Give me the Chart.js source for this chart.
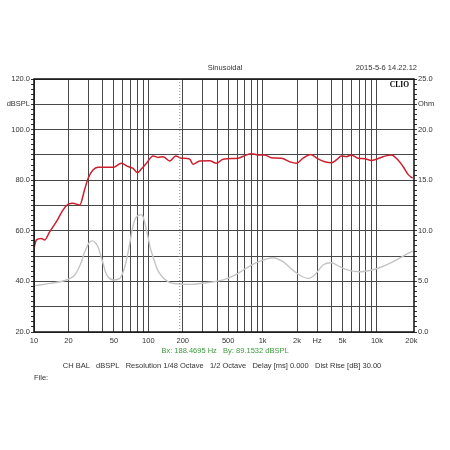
<!DOCTYPE html>
<html>
<head>
<meta charset="utf-8">
<script src="https://cdn.jsdelivr.net/npm/chart.js@4"></script>
<style>
html,body{margin:0;padding:0;background:#fff;}
canvas{display:block;}
</style>
</head>
<body>
<canvas id="c" width="450" height="450"></canvas>
<script>
// Frequency response (dBSPL, left axis)
const splFreq = [10,10.5,11.6,12.4,13.7,15.7,17.9,19.8,21.9,25.1,27.8,29.7,32.8,36.3,40.2,49.1,58.2,66.4,73.5,80.3,87.2,96.2,110,121.6,134.5,153.8,173.7,194.8,230,246,281.7,344,394,450,609,697,798,912,1043,1194,1461,1726,1976,2257,2618,3052,3494,3999,4423,4892,5408,5984,6834,7816,8950,9900,11310,13390,15300,16920,18710,20560];
const splValues = [53.2,56.4,57.0,56.4,59.6,63.6,68.2,70.4,70.9,70.2,76.5,80.7,84.0,85.1,85.1,85.1,86.7,85.4,84.7,83.0,84.5,86.7,89.6,89.0,89.3,87.6,89.6,88.7,88.4,86.3,87.6,87.7,86.7,88.3,88.7,89.7,90.5,90.0,90.0,88.9,88.7,87.3,86.7,88.7,90.2,88.4,87.3,86.9,88.0,89.6,89.3,90.0,88.7,88.5,87.8,88.3,89.3,90.0,88.0,85.4,82.3,80.8];
// Impedance (Ohm, right axis)
const impFreq = [10.1,13.7,19.2,22.7,26.0,27.5,29.1,30.5,32.4,34.2,36.3,38.3,40.2,42,44.4,49.8,56.3,62.3,65.5,68.8,72,76.1,80,84.2,87,89.8,94,99.3,104,110,117,125.4,148.5,187.6,237.4,322,466,609,798,1005,1233,1508,1906,2494,2852,3372,3990,4730,5808,7130,9020,11060,13900,17580,20560];
const impValues = [4.58,4.8,5.14,5.63,6.95,7.8,8.43,8.85,9.0,8.85,8.43,7.6,6.79,6.0,5.46,5.14,5.3,6.45,7.5,8.76,10.0,11.07,11.45,11.56,11.6,11.4,10.6,9.42,8.3,7.44,6.5,5.8,4.97,4.74,4.71,4.87,5.2,5.8,6.62,7.1,7.34,6.95,5.96,5.3,5.63,6.62,6.85,6.45,6.06,5.96,6.13,6.45,6.95,7.6,8.0];
// Cursor
const cursorFreq = 188.4695;
const cursorSpl = 89.1532;
// Axis ticks
const xGridValues = [10,20,30,40,50,60,70,80,90,100,200,300,400,500,600,700,800,900,1000,2000,3000,4000,5000,6000,7000,8000,9000,10000,20000];
const xTickLabels = {10:'10',20:'20',50:'50',100:'100',200:'200',500:'500',1000:'1k',2000:'2k',3000:'Hz',5000:'5k',10000:'10k',20000:'20k'};
const leftTickLabels = {20:'20.0',40:'40.0',60:'60.0',80:'80.0',100:'100.0',110:'dBSPL',120:'120.0'};
const rightTickLabels = {0:'0.0',5:'5.0',10:'10.0',15:'15.0',20:'20.0',22.5:'Ohm',25:'25.0'};

const FONT = {family:'"Liberation Sans", Arial, sans-serif', size:7.5};
const GRID = '#484848';

function mkTicks(min,max,step){const a=[];for(let v=min;v<=max+1e-9;v+=step)a.push({value:Math.round(v*100)/100});return a;}

const extras = {
  id:'extras',
  beforeDraw(chart){
    const ctx=chart.ctx;ctx.save();ctx.fillStyle='#fff';ctx.fillRect(0,0,chart.width,chart.height);ctx.restore();
  },
  afterDraw(chart){
    const ctx=chart.ctx, a=chart.chartArea;
    ctx.save();
    ctx.strokeStyle='#111';ctx.lineWidth=1.5;
    ctx.strokeRect(a.left,a.top,a.right-a.left,a.bottom-a.top);
    ctx.font='7.5px "Liberation Sans", Arial, sans-serif';
    ctx.fillStyle='#333';ctx.textBaseline='middle';
    ctx.textAlign='center';ctx.fillText('Sinusoidal',225,68);
    ctx.textAlign='right';ctx.fillText('2015-5-6 14.22.12',417,68);
    ctx.font='bold 7.5px "Liberation Serif", "Times New Roman", serif';
    ctx.fillStyle='#000';ctx.textAlign='right';ctx.fillText('CLIO',409,85);
    ctx.font='7.5px "Liberation Sans", Arial, sans-serif';
    ctx.fillStyle='#3c9a3c';ctx.textAlign='center';
    ctx.fillText('Bx: ' + cursorFreq.toFixed(4) + ' Hz   By: ' + cursorSpl.toFixed(4) + ' dBSPL',225,351);
    ctx.fillStyle='#333';
    ctx.fillText('CH BAL   dBSPL   Resolution 1/48 Octave   1/2 Octave   Delay [ms] 0.000   Dist Rise [dB] 30.00',222,366);
    ctx.textAlign='left';ctx.fillText('File:',34,378);
    ctx.restore();
  }
};

new Chart(document.getElementById('c'),{
  type:'line',
  data:{datasets:[
    {label:'cursor',data:[{x:cursorFreq,y:20},{x:cursorFreq,y:120}],borderColor:'#8a8a8a',borderWidth:1,borderDash:[1,2],pointRadius:0,yAxisID:'y'},
    {label:'Impedance',data:impFreq.map((f,i)=>({x:f,y:impValues[i]})),borderColor:'#c4c4c4',borderWidth:1.4,pointRadius:0,cubicInterpolationMode:'monotone',yAxisID:'y1'},
    {label:'dBSPL',data:splFreq.map((f,i)=>({x:f,y:splValues[i]})),borderColor:'#cc1f2e',borderWidth:1.5,pointRadius:0,cubicInterpolationMode:'monotone',yAxisID:'y'}
  ]},
  options:{
    responsive:false,animation:false,
    layout:{padding:{top:79,left:0,right:0,bottom:0}},
    plugins:{legend:{display:false},tooltip:{enabled:false}},
    scales:{
      x:{type:'logarithmic',min:10,max:21100,
        afterBuildTicks:s=>{s.ticks=xGridValues.map(v=>({value:v}));},
        afterFit:s=>{s.height=118;},
        ticks:{autoSkip:false,maxRotation:0,padding:4,color:'#333',font:FONT,callback:v=>xTickLabels[v]||''},
        grid:{drawTicks:false,color:c=>c.tick&&c.tick.value===20000?'rgba(0,0,0,0)':GRID,lineWidth:1},
        border:{display:false}
      },
      y:{type:'linear',position:'left',min:20,max:120,
        afterBuildTicks:s=>{s.ticks=mkTicks(20,120,2);},
        afterFit:s=>{s.width=34;},
        ticks:{autoSkip:false,padding:1,color:'#333',font:FONT,callback:v=>leftTickLabels[v]||''},
        grid:{tickLength:3,tickColor:'#333',color:c=>c.tick&&c.tick.value%10===0?GRID:'rgba(0,0,0,0)',lineWidth:1},
        border:{display:false}
      },
      y1:{type:'linear',position:'right',min:0,max:25,
        afterBuildTicks:s=>{s.ticks=mkTicks(0,25,0.5);},
        afterFit:s=>{s.width=36;},
        ticks:{autoSkip:false,padding:1,color:'#333',font:FONT,callback:v=>rightTickLabels[v]||''},
        grid:{drawOnChartArea:false,tickLength:3,tickColor:'#333'},
        border:{display:false}
      }
    }
  },
  plugins:[extras]
});
</script>
</body>
</html>
